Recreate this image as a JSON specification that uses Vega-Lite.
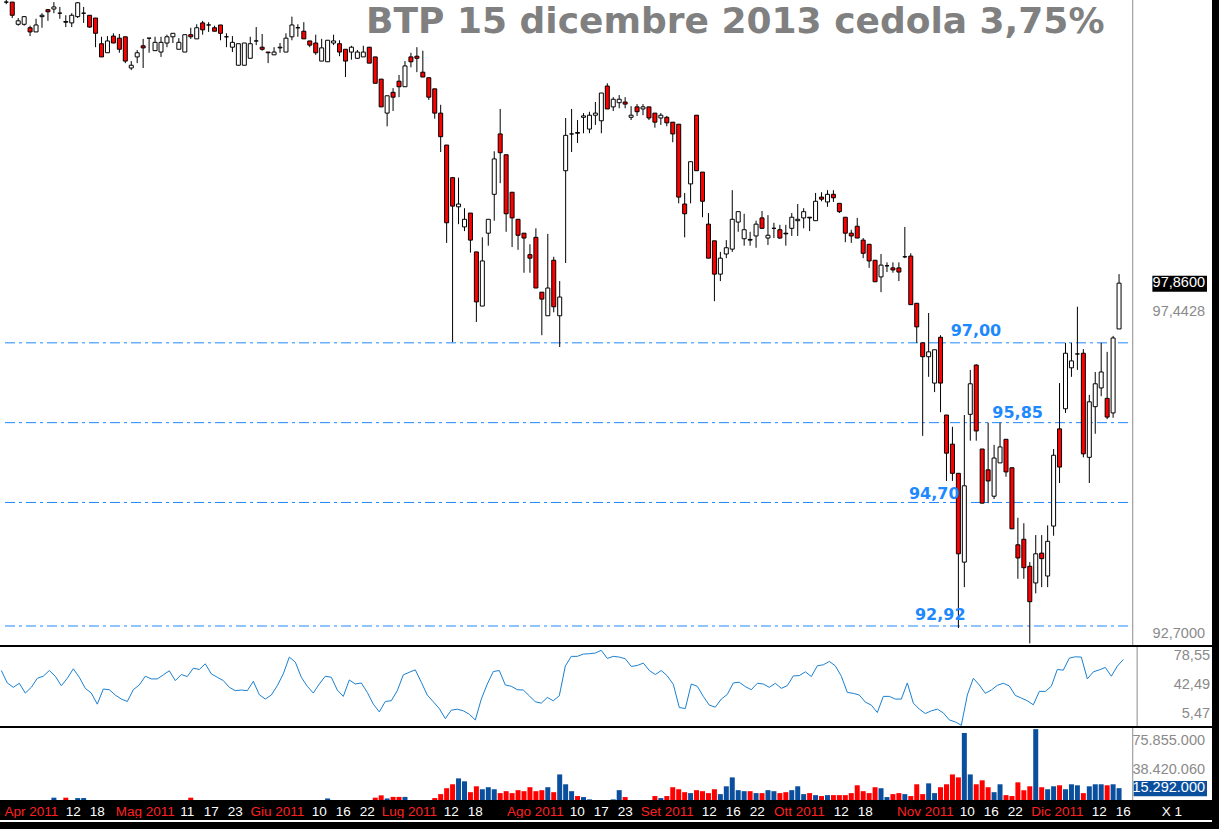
{
"$schema": "https://vega.github.io/schema/vega-lite/v6.json",
"background": "#000000",
"padding": {"left": 0, "top": 0, "right": 7, "bottom": 7},
"spacing": 2,
"config": {"view": {"stroke": null}, "axis": {"disable": true}, "legend": {"disable": true}},
"resolve": {"scale": {"x": "independent", "y": "independent"}},
"datasets": {
"bars": [
{"k":0,"o":101.91,"h":101.94,"l":101.88,"c":101.91,"v":0,"r":69.1},
{"k":1,"o":101.91,"h":101.91,"l":101.68,"c":101.72,"v":0,"r":53.4},
{"k":2,"o":101.59,"h":101.68,"l":101.57,"c":101.64,"v":0,"r":47.9},
{"k":3,"o":101.59,"h":101.71,"l":101.57,"c":101.70,"v":0,"r":53.0},
{"k":4,"o":101.54,"h":101.57,"l":101.42,"c":101.48,"v":0,"r":40.7},
{"k":5,"o":101.48,"h":101.67,"l":101.48,"c":101.58,"v":0,"r":47.9},
{"k":6,"o":101.70,"h":101.75,"l":101.54,"c":101.72,"v":0,"r":59.3},
{"k":7,"o":101.80,"h":101.81,"l":101.64,"c":101.77,"v":0,"r":61.9},
{"k":8,"o":101.81,"h":101.91,"l":101.75,"c":101.84,"v":3000000,"r":69.1},
{"k":9,"o":101.75,"h":101.84,"l":101.67,"c":101.75,"v":0,"r":61.9},
{"k":10,"o":101.63,"h":101.72,"l":101.55,"c":101.62,"v":3000000,"r":50.0},
{"k":11,"o":101.61,"h":101.75,"l":101.55,"c":101.72,"v":0,"r":59.3},
{"k":12,"o":101.70,"h":101.91,"l":101.68,"c":101.90,"v":2500000,"r":71.2},
{"k":13,"o":101.75,"h":101.84,"l":101.61,"c":101.75,"v":2500000,"r":60.6},
{"k":14,"o":101.72,"h":101.72,"l":101.54,"c":101.55,"v":0,"r":46.6},
{"k":15,"o":101.68,"h":101.68,"l":101.26,"c":101.46,"v":0,"r":40.7},
{"k":16,"o":101.31,"h":101.41,"l":101.12,"c":101.12,"v":0,"r":26.7},
{"k":17,"o":101.18,"h":101.42,"l":101.18,"c":101.35,"v":0,"r":45.8},
{"k":18,"o":101.42,"h":101.46,"l":101.32,"c":101.32,"v":0,"r":44.9},
{"k":19,"o":101.39,"h":101.45,"l":101.18,"c":101.23,"v":0,"r":38.2},
{"k":20,"o":101.41,"h":101.41,"l":101.03,"c":101.06,"v":0,"r":33.1},
{"k":21,"o":100.96,"h":101.06,"l":100.93,"c":101.00,"v":0,"r":30.1},
{"k":22,"o":101.12,"h":101.22,"l":101.03,"c":101.18,"v":0,"r":44.9},
{"k":23,"o":101.28,"h":101.38,"l":100.96,"c":101.25,"v":0,"r":50.9},
{"k":24,"o":101.39,"h":101.39,"l":101.18,"c":101.39,"v":0,"r":61.9},
{"k":25,"o":101.21,"h":101.41,"l":101.21,"c":101.33,"v":0,"r":58.5},
{"k":26,"o":101.19,"h":101.41,"l":101.12,"c":101.33,"v":0,"r":58.5},
{"k":27,"o":101.32,"h":101.44,"l":101.26,"c":101.41,"v":0,"r":63.6},
{"k":28,"o":101.41,"h":101.46,"l":101.32,"c":101.46,"v":0,"r":68.7},
{"k":29,"o":101.23,"h":101.39,"l":101.23,"c":101.33,"v":0,"r":56.4},
{"k":30,"o":101.19,"h":101.44,"l":101.19,"c":101.44,"v":0,"r":64.0},
{"k":31,"o":101.44,"h":101.54,"l":101.38,"c":101.41,"v":3000000,"r":61.5},
{"k":32,"o":101.38,"h":101.59,"l":101.38,"c":101.54,"v":0,"r":72.0},
{"k":33,"o":101.61,"h":101.64,"l":101.44,"c":101.51,"v":0,"r":70.4},
{"k":34,"o":101.58,"h":101.62,"l":101.48,"c":101.58,"v":0,"r":77.5},
{"k":35,"o":101.54,"h":101.57,"l":101.49,"c":101.49,"v":0,"r":64.8},
{"k":36,"o":101.58,"h":101.58,"l":101.36,"c":101.46,"v":0,"r":60.6},
{"k":37,"o":101.41,"h":101.46,"l":101.26,"c":101.41,"v":0,"r":56.4},
{"k":38,"o":101.26,"h":101.42,"l":101.19,"c":101.33,"v":0,"r":47.9},
{"k":39,"o":101.00,"h":101.31,"l":101.00,"c":101.31,"v":0,"r":43.7},
{"k":40,"o":101.00,"h":101.32,"l":101.00,"c":101.32,"v":0,"r":44.5},
{"k":41,"o":101.10,"h":101.41,"l":101.10,"c":101.31,"v":0,"r":43.7},
{"k":42,"o":101.35,"h":101.55,"l":101.29,"c":101.35,"v":0,"r":55.5},
{"k":43,"o":101.26,"h":101.45,"l":101.21,"c":101.23,"v":0,"r":38.6},
{"k":44,"o":101.19,"h":101.19,"l":101.03,"c":101.18,"v":0,"r":33.1},
{"k":45,"o":101.15,"h":101.26,"l":101.15,"c":101.19,"v":0,"r":38.2},
{"k":46,"o":101.25,"h":101.32,"l":101.18,"c":101.26,"v":0,"r":50.0},
{"k":47,"o":101.19,"h":101.46,"l":101.19,"c":101.39,"v":0,"r":64.8},
{"k":48,"o":101.41,"h":101.70,"l":101.36,"c":101.58,"v":0,"r":86.0},
{"k":49,"o":101.54,"h":101.59,"l":101.41,"c":101.54,"v":0,"r":79.7},
{"k":50,"o":101.49,"h":101.62,"l":101.38,"c":101.38,"v":0,"r":60.6},
{"k":51,"o":101.35,"h":101.35,"l":101.26,"c":101.29,"v":0,"r":49.2},
{"k":52,"o":101.32,"h":101.44,"l":101.15,"c":101.18,"v":0,"r":40.7},
{"k":53,"o":101.06,"h":101.38,"l":101.06,"c":101.25,"v":0,"r":52.1},
{"k":54,"o":101.05,"h":101.36,"l":101.05,"c":101.36,"v":2000000,"r":61.9},
{"k":55,"o":101.32,"h":101.44,"l":101.29,"c":101.35,"v":0,"r":60.6},
{"k":56,"o":101.31,"h":101.36,"l":101.13,"c":101.19,"v":0,"r":44.5},
{"k":57,"o":101.23,"h":101.23,"l":100.83,"c":101.06,"v":0,"r":36.5},
{"k":58,"o":101.19,"h":101.28,"l":101.08,"c":101.26,"v":0,"r":57.2},
{"k":59,"o":101.10,"h":101.22,"l":101.09,"c":101.19,"v":0,"r":52.1},
{"k":60,"o":101.12,"h":101.28,"l":101.12,"c":101.19,"v":0,"r":53.4},
{"k":61,"o":101.26,"h":101.26,"l":101.03,"c":101.03,"v":0,"r":41.5},
{"k":62,"o":101.12,"h":101.12,"l":100.74,"c":100.74,"v":3000000,"r":26.7},
{"k":63,"o":100.80,"h":100.80,"l":100.40,"c":100.40,"v":6000000,"r":17.0},
{"k":64,"o":100.31,"h":100.56,"l":100.12,"c":100.56,"v":2000000,"r":30.1},
{"k":65,"o":100.61,"h":100.67,"l":100.34,"c":100.54,"v":4000000,"r":31.0},
{"k":66,"o":100.77,"h":100.86,"l":100.54,"c":100.69,"v":4000000,"r":43.7},
{"k":67,"o":100.69,"h":101.06,"l":100.69,"c":100.99,"v":4000000,"r":63.6},
{"k":68,"o":101.12,"h":101.18,"l":100.97,"c":101.05,"v":0,"r":66.9},
{"k":69,"o":101.13,"h":101.26,"l":100.90,"c":101.10,"v":0,"r":69.9},
{"k":70,"o":100.90,"h":101.21,"l":100.83,"c":100.83,"v":0,"r":54.3},
{"k":71,"o":100.82,"h":100.82,"l":100.50,"c":100.54,"v":0,"r":38.2},
{"k":72,"o":100.66,"h":100.66,"l":100.23,"c":100.31,"v":2500000,"r":29.7},
{"k":73,"o":100.31,"h":100.43,"l":99.75,"c":99.97,"v":7600000,"r":21.2},
{"k":74,"o":99.85,"h":99.85,"l":98.44,"c":98.73,"v":15200000,"r":8.5},
{"k":75,"o":99.38,"h":99.39,"l":97.01,"c":98.97,"v":20300000,"r":19.1},
{"k":76,"o":98.96,"h":99.38,"l":98.71,"c":99.00,"v":27900000,"r":20.4},
{"k":77,"o":98.67,"h":98.94,"l":98.61,"c":98.78,"v":24100000,"r":18.3},
{"k":78,"o":98.87,"h":98.87,"l":98.30,"c":98.48,"v":10100000,"r":14.0},
{"k":79,"o":98.31,"h":98.31,"l":97.30,"c":97.59,"v":17700000,"r":6.8},
{"k":80,"o":97.53,"h":98.52,"l":97.53,"c":98.18,"v":13900000,"r":33.1},
{"k":81,"o":98.58,"h":98.78,"l":98.40,"c":98.78,"v":16500000,"r":52.1},
{"k":82,"o":99.14,"h":99.76,"l":98.76,"c":99.65,"v":13900000,"r":67.8},
{"k":83,"o":100.01,"h":100.37,"l":99.30,"c":99.74,"v":8900000,"r":69.1},
{"k":84,"o":99.71,"h":99.71,"l":98.60,"c":98.86,"v":11400000,"r":50.9},
{"k":85,"o":99.17,"h":99.17,"l":98.38,"c":98.80,"v":8900000,"r":49.2},
{"k":86,"o":98.78,"h":98.78,"l":98.34,"c":98.55,"v":12700000,"r":44.9},
{"k":87,"o":98.58,"h":98.58,"l":98.01,"c":98.51,"v":11400000,"r":44.5},
{"k":88,"o":98.27,"h":98.42,"l":98.01,"c":98.22,"v":16500000,"r":37.3},
{"k":89,"o":98.52,"h":98.65,"l":97.79,"c":97.79,"v":11400000,"r":29.7},
{"k":90,"o":97.73,"h":97.73,"l":97.11,"c":97.63,"v":12700000,"r":28.0},
{"k":91,"o":97.39,"h":98.57,"l":97.39,"c":97.79,"v":16500000,"r":35.2},
{"k":92,"o":98.19,"h":98.24,"l":97.44,"c":97.52,"v":10100000,"r":31.0},
{"k":93,"o":97.39,"h":97.89,"l":96.94,"c":97.66,"v":33000000,"r":37.3},
{"k":94,"o":99.48,"h":100.24,"l":98.15,"c":99.99,"v":20300000,"r":74.6},
{"k":95,"o":100.01,"h":100.37,"l":99.75,"c":100.01,"v":11400000,"r":86.9},
{"k":96,"o":100.03,"h":100.21,"l":99.88,"c":100.02,"v":5100000,"r":86.9},
{"k":97,"o":100.25,"h":100.31,"l":100.02,"c":100.27,"v":3800000,"r":89.8},
{"k":98,"o":100.08,"h":100.33,"l":100.02,"c":100.28,"v":800000,"r":90.2},
{"k":99,"o":100.28,"h":100.47,"l":100.14,"c":100.31,"v":0,"r":91.1},
{"k":100,"o":100.20,"h":100.60,"l":100.02,"c":100.60,"v":0,"r":94.5},
{"k":101,"o":100.70,"h":100.74,"l":100.37,"c":100.37,"v":0,"r":84.3},
{"k":102,"o":100.40,"h":100.54,"l":100.34,"c":100.51,"v":800000,"r":86.9},
{"k":103,"o":100.46,"h":100.57,"l":100.38,"c":100.51,"v":12700000,"r":86.0},
{"k":104,"o":100.47,"h":100.54,"l":100.38,"c":100.44,"v":3800000,"r":83.9},
{"k":105,"o":100.25,"h":100.41,"l":100.21,"c":100.28,"v":0,"r":74.2},
{"k":106,"o":100.40,"h":100.44,"l":100.27,"c":100.33,"v":0,"r":75.4},
{"k":107,"o":100.37,"h":100.44,"l":100.28,"c":100.40,"v":0,"r":78.4},
{"k":108,"o":100.40,"h":100.40,"l":100.21,"c":100.24,"v":0,"r":69.1},
{"k":109,"o":100.31,"h":100.31,"l":100.10,"c":100.18,"v":5100000,"r":64.0},
{"k":110,"o":100.24,"h":100.31,"l":100.14,"c":100.28,"v":2500000,"r":69.1},
{"k":111,"o":100.25,"h":100.27,"l":100.12,"c":100.17,"v":5100000,"r":62.3},
{"k":112,"o":100.18,"h":100.18,"l":99.89,"c":100.01,"v":16500000,"r":51.7},
{"k":113,"o":100.15,"h":100.15,"l":99.01,"c":99.10,"v":13900000,"r":22.5},
{"k":114,"o":99.00,"h":99.16,"l":98.52,"c":98.86,"v":10100000,"r":21.2},
{"k":115,"o":99.29,"h":99.61,"l":99.01,"c":99.61,"v":8900000,"r":52.1},
{"k":116,"o":100.28,"h":100.28,"l":99.48,"c":99.48,"v":12700000,"r":49.2},
{"k":117,"o":99.46,"h":99.46,"l":98.81,"c":99.04,"v":11400000,"r":36.5},
{"k":118,"o":98.71,"h":98.87,"l":98.22,"c":98.22,"v":8900000,"r":25.5},
{"k":119,"o":98.47,"h":98.47,"l":97.60,"c":97.99,"v":13900000,"r":22.9},
{"k":120,"o":97.99,"h":98.31,"l":97.89,"c":98.22,"v":7600000,"r":33.1},
{"k":121,"o":98.28,"h":98.48,"l":98.22,"c":98.37,"v":17700000,"r":39.0},
{"k":122,"o":98.35,"h":99.20,"l":98.31,"c":98.78,"v":29200000,"r":53.4},
{"k":123,"o":98.74,"h":98.89,"l":98.60,"c":98.89,"v":12700000,"r":54.3},
{"k":124,"o":98.50,"h":98.86,"l":98.40,"c":98.63,"v":11400000,"r":48.8},
{"k":125,"o":98.49,"h":98.60,"l":98.40,"c":98.48,"v":11400000,"r":44.9},
{"k":126,"o":98.54,"h":98.76,"l":98.37,"c":98.71,"v":8900000,"r":53.0},
{"k":127,"o":98.80,"h":98.90,"l":98.65,"c":98.65,"v":8900000,"r":52.1},
{"k":128,"o":98.51,"h":98.84,"l":98.41,"c":98.55,"v":12700000,"r":47.9},
{"k":129,"o":98.65,"h":98.73,"l":98.51,"c":98.65,"v":11400000,"r":53.0},
{"k":130,"o":98.63,"h":98.70,"l":98.50,"c":98.51,"v":8900000,"r":46.6},
{"k":131,"o":98.58,"h":98.70,"l":98.40,"c":98.57,"v":10100000,"r":50.0},
{"k":132,"o":98.65,"h":98.87,"l":98.54,"c":98.81,"v":12700000,"r":62.3},
{"k":133,"o":98.76,"h":99.00,"l":98.54,"c":98.78,"v":17700000,"r":62.7},
{"k":134,"o":98.80,"h":98.94,"l":98.65,"c":98.89,"v":7600000,"r":67.4},
{"k":135,"o":98.81,"h":98.81,"l":98.61,"c":98.80,"v":8900000,"r":61.5},
{"k":136,"o":98.76,"h":99.16,"l":98.76,"c":99.04,"v":6300000,"r":75.0},
{"k":137,"o":99.10,"h":99.17,"l":99.04,"c":99.07,"v":5100000,"r":76.3},
{"k":138,"o":99.03,"h":99.20,"l":98.96,"c":99.14,"v":6300000,"r":80.5},
{"k":139,"o":99.14,"h":99.20,"l":99.03,"c":99.09,"v":6300000,"r":75.0},
{"k":140,"o":99.01,"h":99.01,"l":98.87,"c":98.89,"v":6300000,"r":61.9},
{"k":141,"o":98.81,"h":98.81,"l":98.45,"c":98.58,"v":6300000,"r":41.5},
{"k":142,"o":98.58,"h":98.63,"l":98.44,"c":98.54,"v":8900000,"r":40.3},
{"k":143,"o":98.68,"h":98.80,"l":98.51,"c":98.51,"v":19000000,"r":38.2},
{"k":144,"o":98.48,"h":98.51,"l":98.22,"c":98.29,"v":11400000,"r":29.3},
{"k":145,"o":98.42,"h":98.42,"l":98.08,"c":98.18,"v":8900000,"r":25.5},
{"k":146,"o":98.19,"h":98.19,"l":97.88,"c":97.88,"v":16500000,"r":16.2},
{"k":147,"o":97.95,"h":98.28,"l":97.73,"c":98.12,"v":15200000,"r":36.5},
{"k":148,"o":98.11,"h":98.16,"l":98.02,"c":98.11,"v":3800000,"r":36.5},
{"k":149,"o":98.08,"h":98.16,"l":98.01,"c":98.05,"v":7600000,"r":33.1},
{"k":150,"o":98.08,"h":98.16,"l":97.89,"c":98.02,"v":8900000,"r":33.1},
{"k":151,"o":98.24,"h":98.67,"l":98.22,"c":98.24,"v":7600000,"r":53.4},
{"k":152,"o":98.25,"h":98.29,"l":97.55,"c":97.55,"v":5100000,"r":28.0},
{"k":153,"o":97.57,"h":97.57,"l":97.00,"c":97.23,"v":20300000,"r":20.4},
{"k":154,"o":97.00,"h":97.00,"l":95.66,"c":96.80,"v":7600000,"r":14.9},
{"k":155,"o":96.80,"h":97.43,"l":96.51,"c":96.87,"v":21500000,"r":18.3},
{"k":156,"o":96.42,"h":96.90,"l":96.29,"c":96.90,"v":8900000,"r":20.4},
{"k":157,"o":97.08,"h":97.11,"l":96.00,"c":96.42,"v":16500000,"r":15.7},
{"k":158,"o":95.96,"h":95.96,"l":95.01,"c":95.41,"v":20300000,"r":6.8},
{"k":159,"o":95.54,"h":95.79,"l":95.01,"c":95.12,"v":33000000,"r":4.3},
{"k":160,"o":95.12,"h":95.12,"l":92.89,"c":93.96,"v":29200000,"r":0.1},
{"k":161,"o":93.84,"h":95.96,"l":93.48,"c":94.94,"v":86500000,"r":38.2},
{"k":162,"o":95.97,"h":96.61,"l":95.59,"c":96.41,"v":33000000,"r":59.3},
{"k":163,"o":96.68,"h":96.69,"l":95.59,"c":95.73,"v":20300000,"r":50.9},
{"k":164,"o":95.47,"h":95.47,"l":94.69,"c":94.69,"v":25400000,"r":40.3},
{"k":165,"o":95.17,"h":95.85,"l":94.69,"c":95.01,"v":16500000,"r":44.5},
{"k":166,"o":94.79,"h":95.53,"l":94.75,"c":95.34,"v":10100000,"r":50.4},
{"k":167,"o":95.27,"h":95.85,"l":95.27,"c":95.50,"v":20300000,"r":53.0},
{"k":168,"o":95.61,"h":95.61,"l":95.07,"c":95.14,"v":6300000,"r":49.6},
{"k":169,"o":95.20,"h":95.20,"l":94.32,"c":94.32,"v":5100000,"r":37.7},
{"k":170,"o":94.09,"h":94.48,"l":93.60,"c":93.90,"v":22800000,"r":34.4},
{"k":171,"o":94.17,"h":94.40,"l":93.60,"c":93.76,"v":12700000,"r":31.0},
{"k":172,"o":93.78,"h":93.84,"l":92.67,"c":93.27,"v":17700000,"r":25.9},
{"k":173,"o":93.54,"h":94.23,"l":93.39,"c":93.96,"v":91500000,"r":42.8},
{"k":174,"o":93.97,"h":94.23,"l":93.48,"c":93.89,"v":16500000,"r":42.8},
{"k":175,"o":93.64,"h":94.37,"l":93.48,"c":94.14,"v":13900000,"r":49.2},
{"k":176,"o":94.36,"h":95.47,"l":94.22,"c":95.38,"v":17700000,"r":70.4},
{"k":177,"o":95.76,"h":96.42,"l":94.98,"c":95.21,"v":19000000,"r":69.5},
{"k":178,"o":96.05,"h":97.00,"l":95.99,"c":96.85,"v":13900000,"r":84.7},
{"k":179,"o":96.64,"h":97.00,"l":96.51,"c":96.74,"v":20300000,"r":86.4},
{"k":180,"o":96.84,"h":97.52,"l":96.61,"c":96.84,"v":19000000,"r":86.0},
{"k":181,"o":96.85,"h":96.91,"l":95.35,"c":95.40,"v":8900000,"r":58.5},
{"k":182,"o":95.35,"h":96.25,"l":94.98,"c":96.15,"v":17700000,"r":67.4},
{"k":183,"o":96.08,"h":96.58,"l":95.69,"c":96.41,"v":20300000,"r":69.9},
{"k":184,"o":96.35,"h":97.00,"l":96.23,"c":96.58,"v":20300000,"r":72.9},
{"k":185,"o":96.20,"h":96.87,"l":95.90,"c":95.93,"v":19000000,"r":61.9},
{"k":186,"o":95.99,"h":97.10,"l":95.92,"c":97.07,"v":20300000,"r":74.6},
{"k":187,"o":97.20,"h":97.99,"l":97.20,"c":97.86,"v":15292000,"r":83.0}
],
"lev": [{"p":97.00,"t":"97,00"},{"p":95.85,"t":"95,85"},{"p":94.70,"t":"94,70"},{"p":92.92,"t":"92,92"}],
"plab": [{"p":97.86,"t":"97,8600"},{"p":97.4428,"t":"97,4428"},{"p":92.70,"t":"92,7000"}],
"rlab": [{"v":78.55,"t":"78,55"},{"v":42.49,"t":"42,49"},{"v":5.47,"t":"5,47"}],
"vlab": [{"v":75855000,"t":"75.855.000"},{"v":38420060,"t":"38.420.060"},{"v":15292000,"t":"15.292.000"}],
"xlab": [
{"k":5,"t":"Apr 2011","m":1},{"k":12,"t":"12","m":0},{"k":16,"t":"18","m":0},
{"k":24,"t":"Mag 2011","m":1},{"k":31,"t":"11","m":0},{"k":35,"t":"17","m":0},{"k":39,"t":"23","m":0},
{"k":46,"t":"Giu 2011","m":1},{"k":53,"t":"10","m":0},{"k":57,"t":"16","m":0},{"k":61,"t":"22","m":0},
{"k":68,"t":"Lug 2011","m":1},{"k":75,"t":"12","m":0},{"k":79,"t":"18","m":0},
{"k":89,"t":"Ago 2011","m":1},{"k":96,"t":"10","m":0},{"k":100,"t":"17","m":0},{"k":104,"t":"23","m":0},
{"k":111,"t":"Set 2011","m":1},{"k":118,"t":"12","m":0},{"k":122,"t":"16","m":0},{"k":126,"t":"22","m":0},
{"k":133,"t":"Ott 2011","m":1},{"k":140,"t":"12","m":0},{"k":144,"t":"18","m":0},
{"k":154,"t":"Nov 2011","m":1},{"k":161,"t":"10","m":0},{"k":165,"t":"16","m":0},{"k":169,"t":"22","m":0},
{"k":176,"t":"Dic 2011","m":1},{"k":183,"t":"12","m":0},{"k":187,"t":"16","m":0}
]
},
"vconcat": [
{
"width": 1212, "height": 645,
"view": {"fill": "#ffffff", "stroke": null},
"layer": [
{"data": {"name": "lev"},
 "mark": {"type": "rule", "color": "#1e88ff", "strokeWidth": 1, "strokeDash": [10, 4, 3, 4], "clip": true},
 "encoding": {
  "y": {"field": "p", "type": "quantitative", "scale": {"domain": [92.646, 101.94], "zero": false, "nice": false}},
  "x": {"datum": -0.2167, "type": "quantitative", "scale": {"domain": [-0.2167, 201.78], "zero": false, "nice": false}},
  "x2": {"datum": 189.3}}},
{"data": {"name": "bars"},
 "mark": {"type": "rule", "color": "#000000", "strokeWidth": 1, "clip": true},
 "encoding": {
  "x": {"field": "k", "type": "quantitative", "scale": {"domain": [-0.2167, 201.78], "zero": false, "nice": false}},
  "y": {"field": "l", "type": "quantitative", "scale": {"domain": [92.646, 101.94], "zero": false, "nice": false}},
  "y2": {"field": "h"}}},
{"data": {"name": "bars"},
 "mark": {"type": "bar", "width": 4, "stroke": "#000000", "strokeWidth": 1, "clip": true},
 "encoding": {
  "x": {"field": "k", "type": "quantitative", "scale": {"domain": [-0.2167, 201.78], "zero": false, "nice": false}},
  "y": {"field": "o", "type": "quantitative", "scale": {"domain": [92.646, 101.94], "zero": false, "nice": false}},
  "y2": {"field": "c"},
  "fill": {"condition": {"test": "datum.c < datum.o", "value": "#ff0000"}, "value": "#ffffff"}}},
{"data": {"name": "lev"},
 "transform": [{"filter": "datum.p == 97"}],
 "mark": {"type": "text", "font": "DejaVu Sans", "fontWeight": "bold", "fontSize": 16, "color": "#1e88ff", "align": "center", "baseline": "middle", "clip": true},
 "encoding": {
  "x": {"datum": 162.95, "type": "quantitative", "scale": {"domain": [-0.2167, 201.78], "zero": false, "nice": false}},
  "y": {"datum": 97.17, "type": "quantitative", "scale": {"domain": [92.646, 101.94], "zero": false, "nice": false}},
  "text": {"field": "t"}}},
{"data": {"name": "lev"},
 "transform": [{"filter": "datum.p == 95.85"}],
 "mark": {"type": "text", "font": "DejaVu Sans", "fontWeight": "bold", "fontSize": 16, "color": "#1e88ff", "align": "center", "baseline": "middle", "clip": true},
 "encoding": {
  "x": {"datum": 169.95, "type": "quantitative", "scale": {"domain": [-0.2167, 201.78], "zero": false, "nice": false}},
  "y": {"datum": 95.99, "type": "quantitative", "scale": {"domain": [92.646, 101.94], "zero": false, "nice": false}},
  "text": {"field": "t"}}},
{"data": {"name": "lev"},
 "transform": [{"filter": "datum.p == 94.7"}],
 "mark": {"type": "text", "font": "DejaVu Sans", "fontWeight": "bold", "fontSize": 16, "color": "#1e88ff", "align": "center", "baseline": "middle", "clip": true},
 "encoding": {
  "x": {"datum": 155.95, "type": "quantitative", "scale": {"domain": [-0.2167, 201.78], "zero": false, "nice": false}},
  "y": {"datum": 94.82, "type": "quantitative", "scale": {"domain": [92.646, 101.94], "zero": false, "nice": false}},
  "text": {"field": "t"}}},
{"data": {"name": "lev"},
 "transform": [{"filter": "datum.p == 92.92"}],
 "mark": {"type": "text", "font": "DejaVu Sans", "fontWeight": "bold", "fontSize": 16, "color": "#1e88ff", "align": "center", "baseline": "middle", "clip": true},
 "encoding": {
  "x": {"datum": 156.95, "type": "quantitative", "scale": {"domain": [-0.2167, 201.78], "zero": false, "nice": false}},
  "y": {"datum": 93.08, "type": "quantitative", "scale": {"domain": [92.646, 101.94], "zero": false, "nice": false}},
  "text": {"field": "t"}}},
{"data": {"values": [{"t": "BTP 15 dicembre 2013 cedola 3,75%"}]},
 "mark": {"type": "text", "font": "DejaVu Sans", "fontWeight": "bold", "fontSize": 36, "color": "#808080", "align": "center", "baseline": "alphabetic", "clip": true},
 "encoding": {
  "x": {"datum": 122.5, "type": "quantitative", "scale": {"domain": [-0.2167, 201.78], "zero": false, "nice": false}},
  "y": {"datum": 101.465, "type": "quantitative", "scale": {"domain": [92.646, 101.94], "zero": false, "nice": false}},
  "text": {"field": "t"}}},
{"data": {"values": [{}]},
 "mark": {"type": "rule", "color": "#8c8c8c", "strokeWidth": 1, "clip": true},
 "encoding": {
  "x": {"datum": 189.3, "type": "quantitative", "scale": {"domain": [-0.2167, 201.78], "zero": false, "nice": false}}}},
{"data": {"name": "plab"},
 "transform": [{"filter": "datum.p == 97.86"}],
 "mark": {"type": "rect", "color": "#000000", "clip": true},
 "encoding": {
  "x": {"datum": 192.6, "type": "quantitative", "scale": {"domain": [-0.2167, 201.78], "zero": false, "nice": false}},
  "x2": {"datum": 201.78},
  "y": {"datum": 97.965, "type": "quantitative", "scale": {"domain": [92.646, 101.94], "zero": false, "nice": false}},
  "y2": {"datum": 97.735}}},
{"data": {"name": "plab"},
 "transform": [{"filter": "datum.p > 95"}],
 "mark": {"type": "text", "font": "Liberation Sans", "fontSize": 14.5, "align": "right", "baseline": "middle", "clip": true},
 "encoding": {
  "x": {"datum": 201.45, "type": "quantitative", "scale": {"domain": [-0.2167, 201.78], "zero": false, "nice": false}},
  "y": {"field": "p", "type": "quantitative", "scale": {"domain": [92.646, 101.94], "zero": false, "nice": false}},
  "text": {"field": "t"},
  "color": {"condition": {"test": "datum.p == 97.86", "value": "#ffffff"}, "value": "#8a8a8a"}}},
{"data": {"name": "plab"},
 "transform": [{"filter": "datum.p < 95"}],
 "mark": {"type": "text", "font": "Liberation Sans", "fontSize": 14.5, "align": "right", "baseline": "bottom", "color": "#8a8a8a", "clip": true},
 "encoding": {
  "x": {"datum": 201.45, "type": "quantitative", "scale": {"domain": [-0.2167, 201.78], "zero": false, "nice": false}},
  "y": {"field": "p", "type": "quantitative", "scale": {"domain": [92.646, 101.94], "zero": false, "nice": false}},
  "text": {"field": "t"}}}
]
},
{
"width": 1212, "height": 79,
"view": {"fill": "#ffffff", "stroke": null},
"layer": [
{"data": {"name": "bars"},
 "mark": {"type": "line", "color": "#1a80d0", "strokeWidth": 1, "clip": true},
 "encoding": {
  "x": {"field": "k", "type": "quantitative", "scale": {"domain": [-0.2167, 201.78], "zero": false, "nice": false}},
  "y": {"field": "r", "type": "quantitative", "scale": {"domain": [-0.8, 98.7], "zero": false, "nice": false}}}},
{"data": {"values": [{}]},
 "mark": {"type": "rule", "color": "#8c8c8c", "strokeWidth": 1, "clip": true},
 "encoding": {
  "x": {"datum": 189.3, "type": "quantitative", "scale": {"domain": [-0.2167, 201.78], "zero": false, "nice": false}}}},
{"data": {"name": "rlab"},
 "mark": {"type": "text", "font": "Liberation Sans", "fontSize": 14.5, "align": "right", "baseline": "bottom", "color": "#8a8a8a", "clip": true},
 "encoding": {
  "x": {"datum": 201.45, "type": "quantitative", "scale": {"domain": [-0.2167, 201.78], "zero": false, "nice": false}},
  "y": {"field": "v", "type": "quantitative", "scale": {"domain": [-0.8, 98.7], "zero": false, "nice": false}},
  "text": {"field": "t"}}}
]
},
{
"width": 1212, "height": 72,
"view": {"fill": "#ffffff", "stroke": null},
"layer": [
{"data": {"name": "bars"},
 "mark": {"type": "bar", "width": 5, "clip": true},
 "encoding": {
  "x": {"field": "k", "type": "quantitative", "scale": {"domain": [-0.2167, 201.78], "zero": false, "nice": false}},
  "y": {"field": "v", "type": "quantitative", "scale": {"domain": [0, 92950000], "nice": false}},
  "fill": {"condition": {"test": "datum.c < datum.o", "value": "#ff0000"}, "value": "#0a4f9e"}}},
{"data": {"values": [{}]},
 "mark": {"type": "rule", "color": "#8c8c8c", "strokeWidth": 1, "clip": true},
 "encoding": {
  "x": {"datum": 189.3, "type": "quantitative", "scale": {"domain": [-0.2167, 201.78], "zero": false, "nice": false}}}},
{"data": {"name": "vlab"},
 "transform": [{"filter": "datum.v == 15292000"}],
 "mark": {"type": "rect", "color": "#0a4f9e", "clip": true},
 "encoding": {
  "x": {"datum": 189.45, "type": "quantitative", "scale": {"domain": [-0.2167, 201.78], "zero": false, "nice": false}},
  "x2": {"datum": 201.78},
  "y": {"datum": 4800000, "type": "quantitative", "scale": {"domain": [0, 92950000], "nice": false}},
  "y2": {"datum": 24500000}}},
{"data": {"name": "vlab"},
 "mark": {"type": "text", "font": "Liberation Sans", "fontSize": 14.5, "align": "right", "baseline": "middle", "clip": true},
 "encoding": {
  "x": {"datum": 201.45, "type": "quantitative", "scale": {"domain": [-0.2167, 201.78], "zero": false, "nice": false}},
  "y": {"field": "v", "type": "quantitative", "scale": {"domain": [0, 92950000], "nice": false}},
  "text": {"field": "t"},
  "color": {"condition": {"test": "datum.v == 15292000", "value": "#ffffff"}, "value": "#8a8a8a"}}}
]
},
{
"width": 1212, "height": 16,
"view": {"fill": "#000000", "stroke": null},
"layer": [
{"data": {"name": "xlab"},
 "mark": {"type": "text", "font": "Liberation Sans", "fontSize": 13.5, "align": "center", "baseline": "middle", "dy": 2, "clip": true},
 "encoding": {
  "x": {"field": "k", "type": "quantitative", "scale": {"domain": [-0.2167, 201.78], "zero": false, "nice": false}},
  "text": {"field": "t"},
  "color": {"condition": {"test": "datum.m == 1", "value": "#ff2020"}, "value": "#ffffff"}}},
{"data": {"values": [{"t": "X 1"}]},
 "mark": {"type": "text", "font": "Liberation Sans", "fontSize": 13.5, "align": "center", "baseline": "middle", "dy": 2, "color": "#ffffff", "clip": true},
 "encoding": {
  "x": {"datum": 195.1, "type": "quantitative", "scale": {"domain": [-0.2167, 201.78], "zero": false, "nice": false}},
  "text": {"field": "t"}}}
]
},
{
"width": 1212, "height": 2,
"view": {"fill": "#ffffff", "stroke": null},
"data": {"values": []},
"mark": "rule",
"encoding": {}
}
]
}
